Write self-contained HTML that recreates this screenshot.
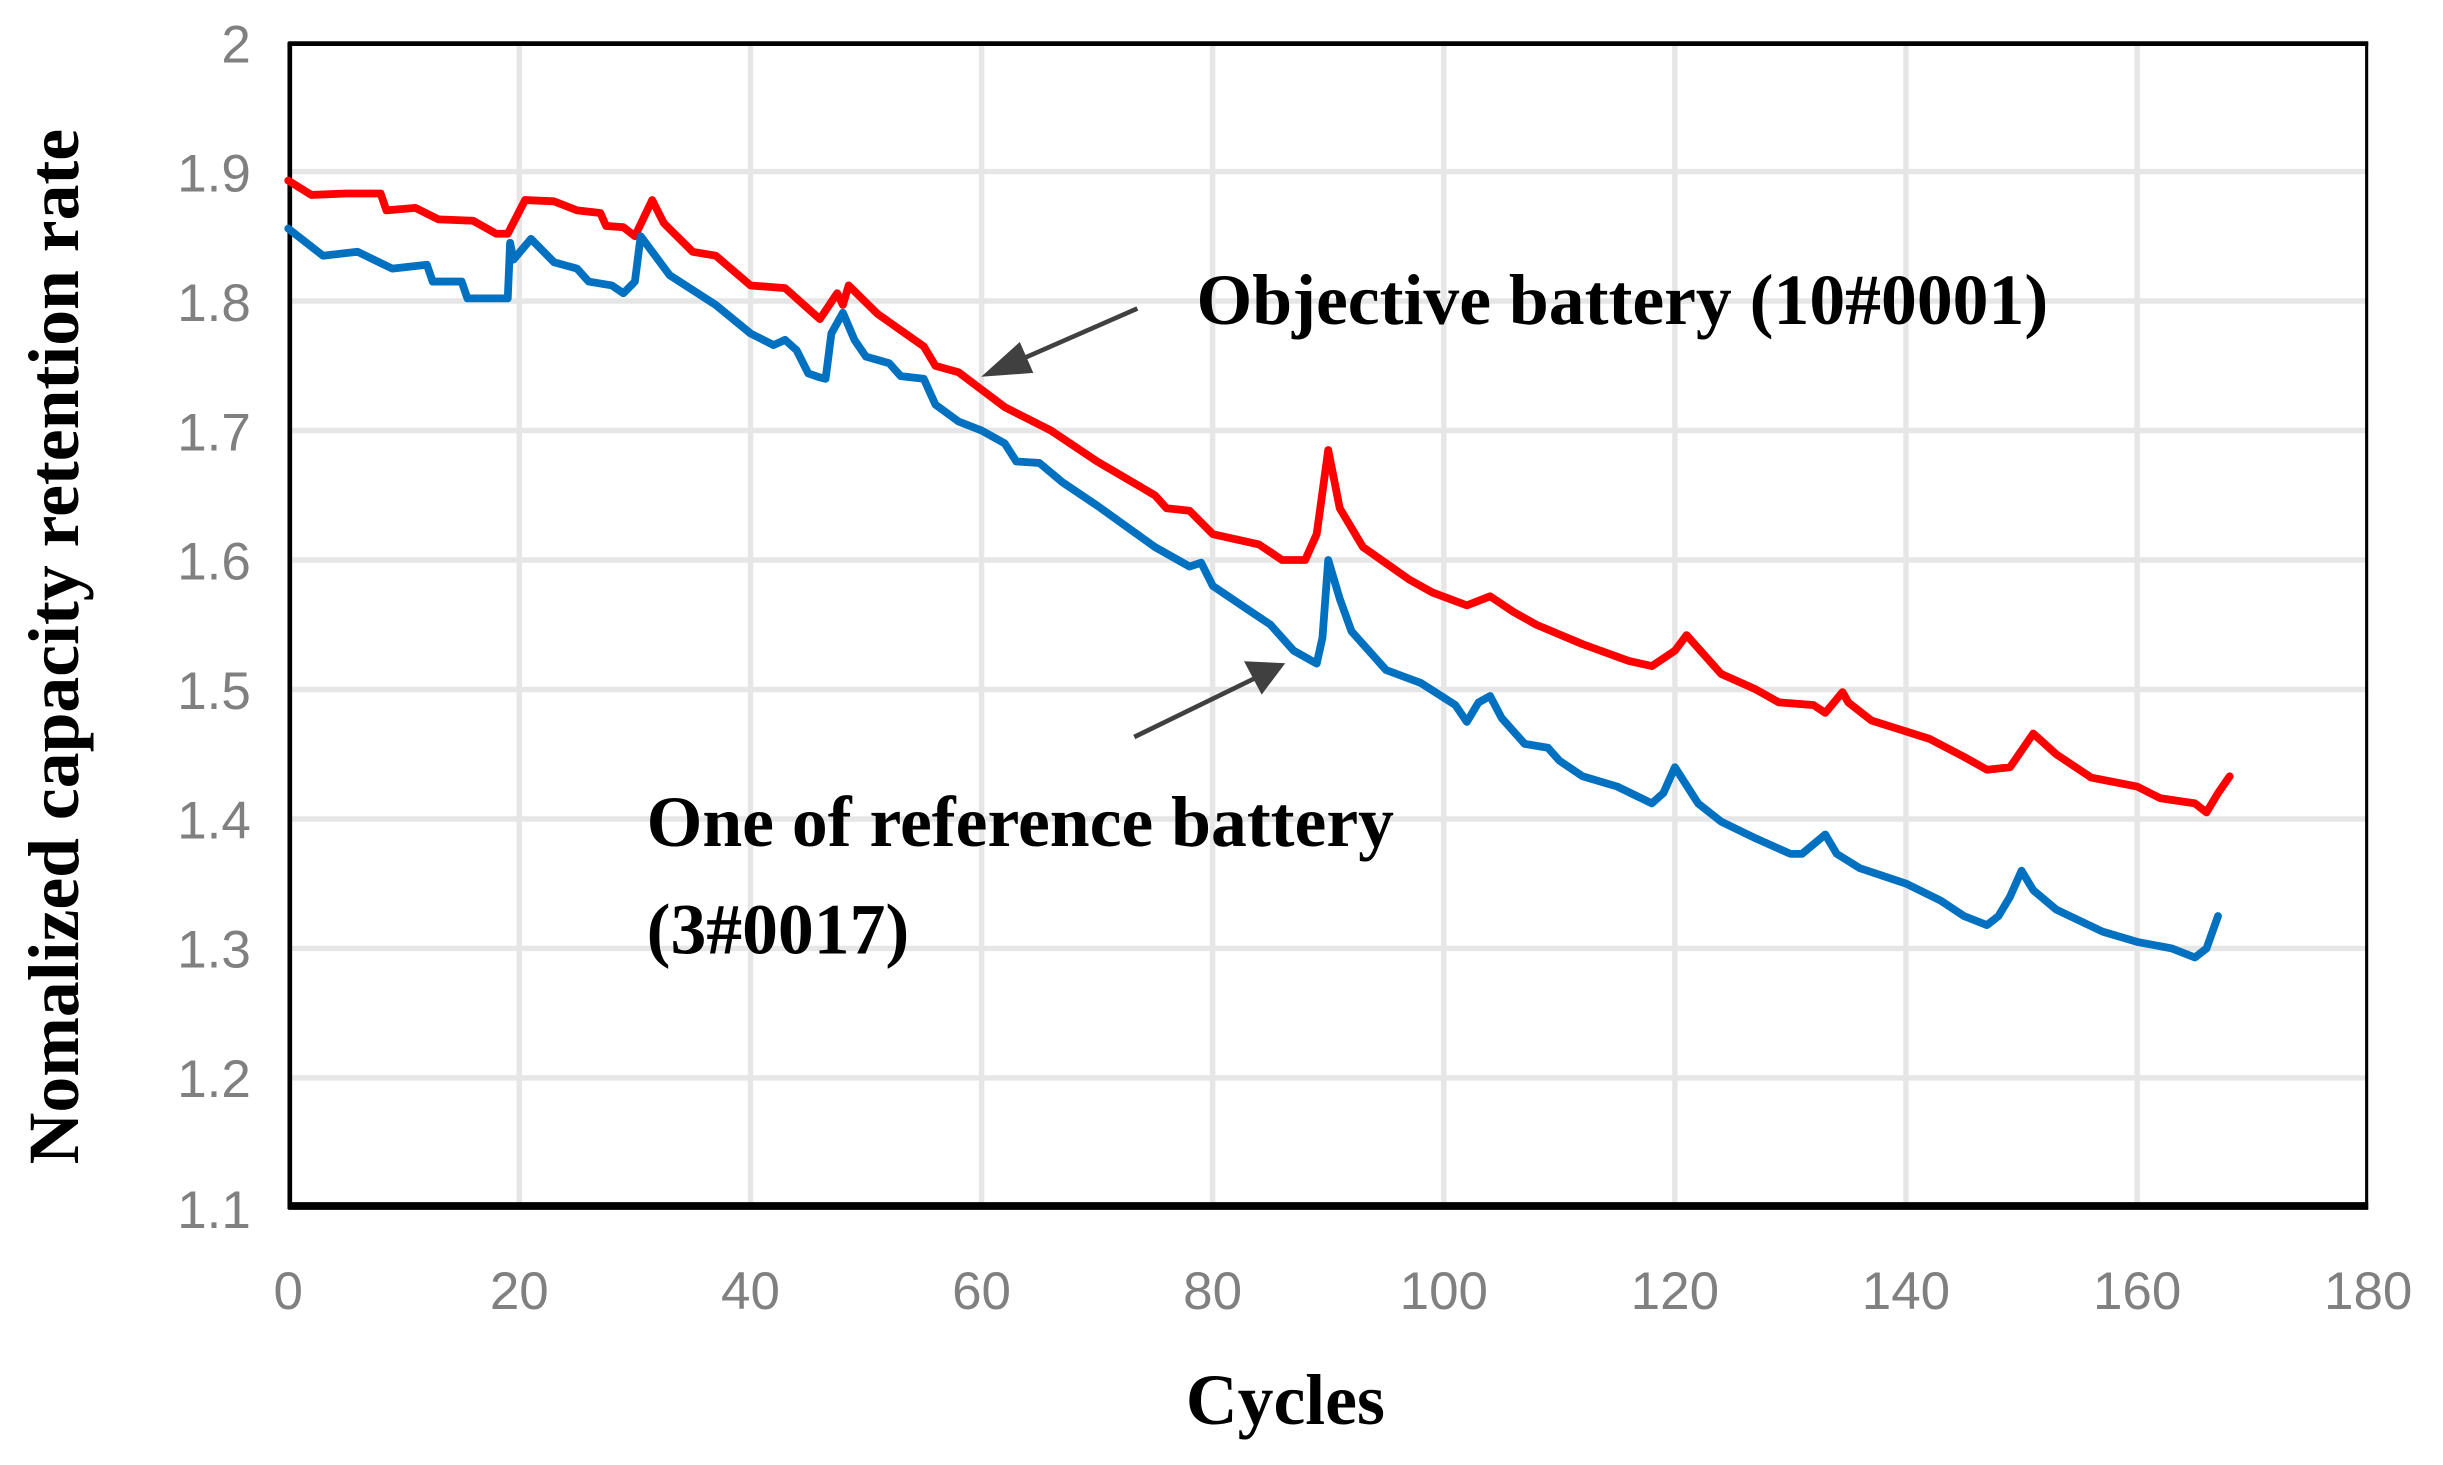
<!DOCTYPE html>
<html><head><style>html,body{margin:0;padding:0;background:#fff}</style></head><body>
<svg width="2443" height="1460" viewBox="0 0 1568 937" preserveAspectRatio="none" xmlns="http://www.w3.org/2000/svg">
<rect width="1568" height="937" fill="#fff"/>
<g stroke="#e6e6e6" stroke-width="3.5">
<line x1="333.3" y1="27" x2="333.3" y2="775"/><line x1="481.7" y1="27" x2="481.7" y2="775"/><line x1="630" y1="27" x2="630" y2="775"/><line x1="778.3" y1="27" x2="778.3" y2="775"/><line x1="926.7" y1="27" x2="926.7" y2="775"/><line x1="1075" y1="27" x2="1075" y2="775"/><line x1="1223.3" y1="27" x2="1223.3" y2="775"/><line x1="1371.7" y1="27" x2="1371.7" y2="775"/>
<line x1="185" y1="110.1" x2="1520" y2="110.1"/><line x1="185" y1="193.2" x2="1520" y2="193.2"/><line x1="185" y1="276.3" x2="1520" y2="276.3"/><line x1="185" y1="359.4" x2="1520" y2="359.4"/><line x1="185" y1="442.5" x2="1520" y2="442.5"/><line x1="185" y1="525.6" x2="1520" y2="525.6"/><line x1="185" y1="608.7" x2="1520" y2="608.7"/><line x1="185" y1="691.8" x2="1520" y2="691.8"/>
</g>
<g stroke="#000" fill="none">
<line x1="185" y1="28" x2="1520" y2="28" stroke-width="3"/>
<line x1="186" y1="27" x2="186" y2="776" stroke-width="3"/>
<line x1="1519" y1="27" x2="1519" y2="776" stroke-width="2"/>
<line x1="185" y1="774" x2="1520" y2="774" stroke-width="5"/>
</g>
<g font-family="Liberation Sans, Arial, sans-serif" font-size="34" fill="#808080" text-anchor="end">
<text x="161" y="40">2</text><text x="161" y="123">1.9</text><text x="161" y="206">1.8</text><text x="161" y="289">1.7</text><text x="161" y="372">1.6</text><text x="161" y="455">1.5</text><text x="161" y="538">1.4</text><text x="161" y="621">1.3</text><text x="161" y="704">1.2</text><text x="161" y="788">1.1</text>
</g>
<g font-family="Liberation Sans, Arial, sans-serif" font-size="34" fill="#808080" text-anchor="middle">
<text x="185" y="840">0</text><text x="333.3" y="840">20</text><text x="481.7" y="840">40</text><text x="630" y="840">60</text><text x="778.3" y="840">80</text><text x="926.7" y="840">100</text><text x="1075" y="840">120</text><text x="1223.3" y="840">140</text><text x="1371.7" y="840">160</text><text x="1520" y="840">180</text>
</g>
<g font-family="Liberation Serif, Times New Roman, serif" font-weight="bold" font-size="46" fill="#000">
<text x="825" y="914" text-anchor="middle">Cycles</text>
<text transform="translate(50,415) rotate(-90)" text-anchor="middle">Nomalized capacity retention rate</text>
<text x="768" y="208">Objective battery (10#0001)</text>
<text x="415" y="543">One of reference battery</text>
<text x="415" y="612">(3#0017)</text>
</g>
<g stroke="#404040" stroke-width="3" fill="#404040">
<line x1="730" y1="198" x2="650" y2="233"/><polygon points="634,240 654,222 661,238"/>
<line x1="728" y1="473" x2="806" y2="435"/><polygon points="822,427 801,426 810,443"/>
</g>
<g fill="none" stroke-width="5" stroke-linejoin="round" stroke-linecap="round">
<polyline id="r" stroke="#ff0000" points=""/>
<polyline id="b" stroke="#0070c0" points=""/>
</g>
</svg>
<script>
function P(d){var s=[];for(var i=0;i<d.length;i+=2){s.push((185+d[i]*7.417).toFixed(1)+","+(27+(2-d[i+1])*831).toFixed(1));}return s.join(" ");}
var r=[0,1.893,2,1.882,5,1.883,8,1.883,8.5,1.870,11,1.872,13,1.863,16,1.862,18,1.852,19,1.852,20.5,1.878,23,1.877,25,1.870,27,1.868,27.5,1.858,29,1.857,30,1.85,31.5,1.878,32.5,1.860,35,1.838,37,1.835,40,1.812,43,1.810,46,1.786,47.5,1.806,48,1.797,48.5,1.812,51,1.790,55,1.765,56,1.750,58,1.745,62,1.718,66,1.700,70,1.676,75,1.650,76,1.640,78,1.638,80,1.620,84,1.612,86,1.600,88,1.600,89,1.620,90,1.685,91,1.640,93,1.610,97,1.585,99,1.575,102,1.565,104,1.572,106,1.560,108,1.550,112,1.535,116,1.522,118,1.518,120,1.530,121,1.542,124,1.512,127,1.500,129,1.490,132,1.488,133,1.482,134.5,1.498,135,1.490,137,1.476,142,1.462,145,1.448,147,1.438,149,1.440,151,1.466,153,1.450,156,1.432,160,1.425,162,1.416,165,1.412,166,1.405,167,1.420,168,1.433];
var b=[0,1.856,3,1.835,6,1.838,9,1.825,12,1.828,12.5,1.815,15,1.815,15.5,1.802,19,1.802,19.2,1.845,19.5,1.832,21,1.848,23,1.830,25,1.825,26,1.815,28,1.812,29,1.806,30,1.815,30.5,1.850,33,1.820,37,1.797,40,1.775,42,1.766,43,1.77,44,1.762,45,1.744,46,1.741,46.5,1.740,47,1.775,48,1.791,49,1.770,50,1.757,52,1.752,53,1.742,55,1.740,56,1.720,58,1.707,60,1.700,62,1.690,63,1.676,65,1.675,67,1.660,70,1.642,75,1.610,78,1.595,79,1.598,80,1.580,83,1.562,85,1.550,87,1.530,89,1.520,89.5,1.540,90,1.600,91,1.570,92,1.545,95,1.515,98,1.505,101,1.488,102,1.475,103,1.490,104,1.495,105,1.478,107,1.458,109,1.455,110,1.445,112,1.433,115,1.425,118,1.412,119,1.420,120,1.440,122,1.412,124,1.398,127,1.385,130,1.373,131,1.373,133,1.388,134,1.373,136,1.362,140,1.350,143,1.337,145,1.325,147,1.318,148,1.325,149,1.340,150,1.360,151,1.345,153,1.330,157,1.313,160,1.305,163,1.300,165,1.293,166,1.300,167,1.325];
document.getElementById("r").setAttribute("points",P(r));
document.getElementById("b").setAttribute("points",P(b));
</script>
</body></html>
